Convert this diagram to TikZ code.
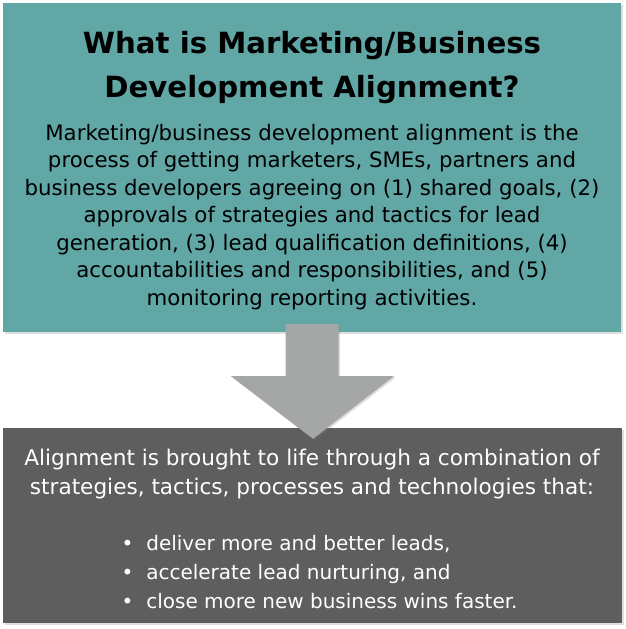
\documentclass[tikz,border=0pt]{standalone}
\usepackage{fontspec}
\setmainfont{DejaVu Sans}
\usetikzlibrary{positioning,calc,shadows}
\definecolor{tealbox}{RGB}{96,167,166}
\definecolor{darkbox}{RGB}{94,94,94}
\definecolor{arrowgray}{RGB}{165,167,166}
\tikzset{
    block/.style = {
        shape=rectangle,
        inner sep=0pt,
        drop shadow={opacity=0.25, shadow xshift=1.5pt, shadow yshift=-1.5pt}
    },
    heading/.style = {
        align=center,
        font=\fontsize{29.2}{44}\selectfont\bfseries
    },
    bodytext/.style = {
        align=center,
        font=\fontsize{21.3}{27.5}\selectfont
    },
    basetext/.style = {
        font=\fontsize{21.6}{29.5}\selectfont,
        text=white
    },
}
\begin{document}
\begin{tikzpicture}[x=1pt,y=-1pt]
            \useasboundingbox (0,0) rectangle (626,629);
            \node[block, fill=tealbox, minimum width=618pt, minimum height=329pt] (what) at (312,167.5) {};
            \node[block, fill=darkbox, minimum width=619pt, minimum height=195pt] (how) at (312.5,525.5) {};

            \node[heading] (title) at (312,68) {What is Marketing/Business\\Development Alignment?};
            \node[bodytext] (def) at (312,217) {Marketing/business development alignment is the\\
                process of getting marketers, SMEs, partners and\\
                business developers agreeing on (1) shared goals, (2)\\
                approvals of strategies and tactics for lead\\
                generation, (3) lead qualification definitions, (4)\\
                accountabilities and responsibilities, and (5)\\
                monitoring reporting activities.};

            \node[basetext, align=center] (intro) at (312,474) {Alignment is brought to life through a combination of\\
                strategies, tactics, processes and technologies that:};
            \node[basetext, font=\fontsize{20}{29.2}\selectfont, align=left, anchor=west] (list) at (118,572) {•\hspace{0.65em}deliver more and better leads,\\
                •\hspace{0.65em}accelerate lead nurturing, and\\
                •\hspace{0.65em}close more new business wins faster.};

            % block arrow from the definition box down to the outcome box
            \fill[arrowgray, drop shadow={opacity=0.25, shadow xshift=1.5pt, shadow yshift=-1.5pt}]
                ($(what.south)+(-26.5,-8)$) -- ($(what.south)+(26.5,-8)$)
                -- ($(what.south)+(26.5,44)$) -- ($(what.south)+(82,44)$)
                -- ($(how.north)+(0.5,11)$) -- ($(what.south)+(-81,44)$)
                -- ($(what.south)+(-26.5,44)$) -- cycle;
        \end{tikzpicture}
\end{document}
